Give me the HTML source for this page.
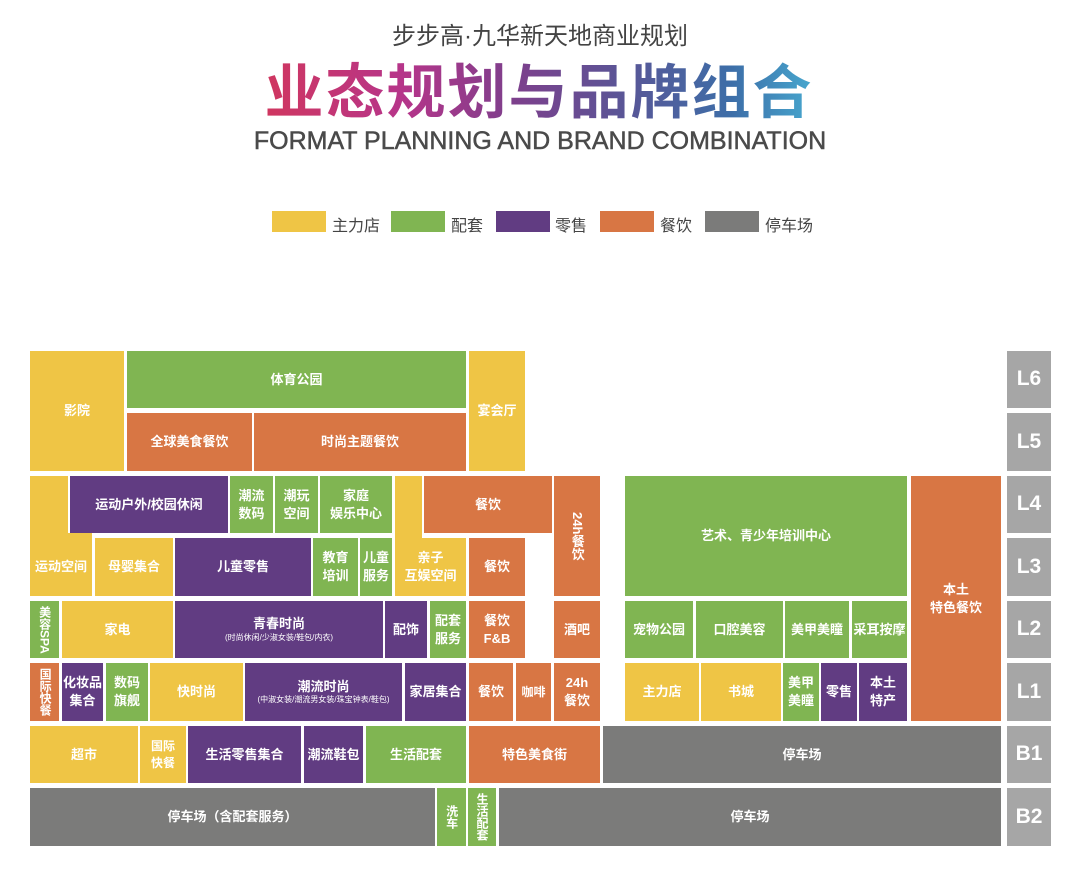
<!DOCTYPE html>
<html><head><meta charset="utf-8"><style>
html,body{margin:0;padding:0;background:#fff;width:1080px;height:874px;overflow:hidden;position:relative;font-family:"Liberation Sans","Noto Sans CJK SC",sans-serif}
.b{position:absolute;display:flex;align-items:center;justify-content:center;text-align:center;color:#fff;font-size:13px;line-height:1.35;font-weight:bold;box-sizing:border-box}
.y{background:#efc545}.g{background:#80b552}.p{background:#613c82}.o{background:#d87644}.k{background:#7b7b7a}.l{background:#a6a6a6;font-size:21px}
.v{writing-mode:vertical-rl}
.s{font-size:8px;font-weight:normal;display:block}
.t{position:absolute;left:0;width:1080px;text-align:center;white-space:nowrap}
.sw{position:absolute;top:211px;width:54px;height:21px}
.lt{position:absolute;top:212px;font-size:16px;color:#444}
</style></head><body>
<div class="t" style="top:16px;font-size:24px;color:#444">步步高·九华新天地商业规划</div>
<div class="t" style="top:58px;font-size:59px;line-height:70px;font-weight:bold;letter-spacing:2px;left:-1px"><span style="background:linear-gradient(90deg,#d0365f,#b6358a 25%,#7e3f8c 45%,#5a5596 65%,#3d6ea8 85%,#47a8cf);-webkit-background-clip:text;background-clip:text;color:transparent">业态规划与品牌组合</span></div>
<div class="t" style="top:126px;font-size:25px;line-height:30px;color:#4a4a4a;left:0px;-webkit-text-stroke:0.5px #4a4a4a">FORMAT PLANNING AND BRAND COMBINATION</div>

<div class="sw y" style="left:272px"></div><div class="lt" style="left:332px">主力店</div>
<div class="sw g" style="left:391px"></div><div class="lt" style="left:451px">配套</div>
<div class="sw p" style="left:496px"></div><div class="lt" style="left:555px">零售</div>
<div class="sw o" style="left:600px"></div><div class="lt" style="left:660px">餐饮</div>
<div class="sw k" style="left:705px"></div><div class="lt" style="left:765px">停车场</div>

<!-- L6/L5 -->
<div class="b y" style="left:30px;top:351px;width:94px;height:120px">影院</div>
<div class="b g" style="left:127px;top:351px;width:339px;height:57px">体育公园</div>
<div class="b o" style="left:127px;top:413px;width:125px;height:58px">全球美食餐饮</div>
<div class="b o" style="left:254px;top:413px;width:212px;height:58px">时尚主题餐饮</div>
<div class="b y" style="left:469px;top:351px;width:56px;height:120px">宴会厅</div>

<!-- L4/L3 -->
<div class="b y" style="left:30px;top:476px;width:38px;height:60px"></div>
<div class="b y" style="left:30px;top:533px;width:62px;height:63px;padding-top:5px">运动空间</div>
<div class="b p" style="left:70px;top:476px;width:158px;height:57px">运动户外/校园休闲</div>
<div class="b g" style="left:230px;top:476px;width:43px;height:57px">潮流<br>数码</div>
<div class="b g" style="left:275px;top:476px;width:43px;height:57px">潮玩<br>空间</div>
<div class="b g" style="left:320px;top:476px;width:72px;height:57px">家庭<br>娱乐中心</div>
<div class="b y" style="left:95px;top:538px;width:78px;height:58px">母婴集合</div>
<div class="b p" style="left:175px;top:538px;width:136px;height:58px">儿童零售</div>
<div class="b g" style="left:313px;top:538px;width:45px;height:58px">教育<br>培训</div>
<div class="b g" style="left:360px;top:538px;width:32px;height:58px">儿童<br>服务</div>
<div class="b y" style="left:395px;top:476px;width:27px;height:65px"></div>
<div class="b y" style="left:395px;top:538px;width:71px;height:58px">亲子<br>互娱空间</div>
<div class="b o" style="left:424px;top:476px;width:128px;height:57px">餐饮</div>
<div class="b o" style="left:469px;top:538px;width:56px;height:58px">餐饮</div>
<div class="b o v" style="left:554px;top:476px;width:46px;height:120px">24h餐饮</div>

<!-- L2 -->
<div class="b g v" style="left:30px;top:601px;width:29px;height:57px;font-size:12px">美容SPA</div>
<div class="b y" style="left:62px;top:601px;width:111px;height:57px">家电</div>
<div class="b p" style="left:175px;top:601px;width:208px;height:57px"><div>青春时尚<span class="s">(时尚休闲/少淑女装/鞋包/内衣)</span></div></div>
<div class="b p" style="left:385px;top:601px;width:42px;height:57px">配饰</div>
<div class="b g" style="left:430px;top:601px;width:36px;height:57px">配套<br>服务</div>
<div class="b o" style="left:469px;top:601px;width:56px;height:57px">餐饮<br>F&amp;B</div>
<div class="b o" style="left:554px;top:601px;width:46px;height:57px">酒吧</div>

<!-- L1 -->
<div class="b o v" style="left:30px;top:663px;width:29px;height:58px;font-size:12px;line-height:1.1">国际快餐</div>
<div class="b p" style="left:62px;top:663px;width:41px;height:58px">化妆品<br>集合</div>
<div class="b g" style="left:106px;top:663px;width:42px;height:58px">数码<br>旗舰</div>
<div class="b y" style="left:150px;top:663px;width:93px;height:58px">快时尚</div>
<div class="b p" style="left:245px;top:663px;width:157px;height:58px"><div>潮流时尚<span class="s">(中淑女装/潮流男女装/珠宝钟表/鞋包)</span></div></div>
<div class="b p" style="left:405px;top:663px;width:61px;height:58px">家居集合</div>
<div class="b o" style="left:469px;top:663px;width:44px;height:58px">餐饮</div>
<div class="b o" style="left:516px;top:663px;width:35px;height:58px;font-size:12px">咖啡</div>
<div class="b o" style="left:554px;top:663px;width:46px;height:58px">24h<br>餐饮</div>

<!-- B1 -->
<div class="b y" style="left:30px;top:726px;width:108px;height:57px">超市</div>
<div class="b y" style="left:140px;top:726px;width:46px;height:57px;font-size:12px">国际<br>快餐</div>
<div class="b p" style="left:188px;top:726px;width:113px;height:57px">生活零售集合</div>
<div class="b p" style="left:304px;top:726px;width:59px;height:57px">潮流鞋包</div>
<div class="b g" style="left:366px;top:726px;width:100px;height:57px">生活配套</div>
<div class="b o" style="left:469px;top:726px;width:131px;height:57px">特色美食街</div>
<div class="b k" style="left:603px;top:726px;width:398px;height:57px">停车场</div>

<!-- B2 -->
<div class="b k" style="left:30px;top:788px;width:405px;height:58px">停车场（含配套服务）</div>
<div class="b g v" style="left:437px;top:788px;width:29px;height:58px;font-size:12px">洗车</div>
<div class="b g v" style="left:468px;top:788px;width:28px;height:58px;font-size:12px;line-height:1">生活配套</div>
<div class="b k" style="left:499px;top:788px;width:502px;height:58px">停车场</div>

<!-- right -->
<div class="b g" style="left:625px;top:476px;width:282px;height:120px">艺术、青少年培训中心</div>
<div class="b o" style="left:911px;top:476px;width:90px;height:245px">本土<br>特色餐饮</div>
<div class="b g" style="left:625px;top:601px;width:68px;height:57px">宠物公园</div>
<div class="b g" style="left:696px;top:601px;width:87px;height:57px">口腔美容</div>
<div class="b g" style="left:785px;top:601px;width:64px;height:57px">美甲美瞳</div>
<div class="b g" style="left:852px;top:601px;width:55px;height:57px">采耳按摩</div>
<div class="b y" style="left:625px;top:663px;width:74px;height:58px">主力店</div>
<div class="b y" style="left:701px;top:663px;width:80px;height:58px">书城</div>
<div class="b g" style="left:783px;top:663px;width:36px;height:58px">美甲<br>美瞳</div>
<div class="b p" style="left:821px;top:663px;width:36px;height:58px">零售</div>
<div class="b p" style="left:859px;top:663px;width:48px;height:58px">本土<br>特产</div>

<!-- level labels -->
<div class="b l" style="left:1007px;top:351px;width:44px;height:57px">L6</div>
<div class="b l" style="left:1007px;top:413px;width:44px;height:58px">L5</div>
<div class="b l" style="left:1007px;top:476px;width:44px;height:57px">L4</div>
<div class="b l" style="left:1007px;top:538px;width:44px;height:58px">L3</div>
<div class="b l" style="left:1007px;top:601px;width:44px;height:57px">L2</div>
<div class="b l" style="left:1007px;top:663px;width:44px;height:58px">L1</div>
<div class="b l" style="left:1007px;top:726px;width:44px;height:57px">B1</div>
<div class="b l" style="left:1007px;top:788px;width:44px;height:58px">B2</div>
</body></html>
